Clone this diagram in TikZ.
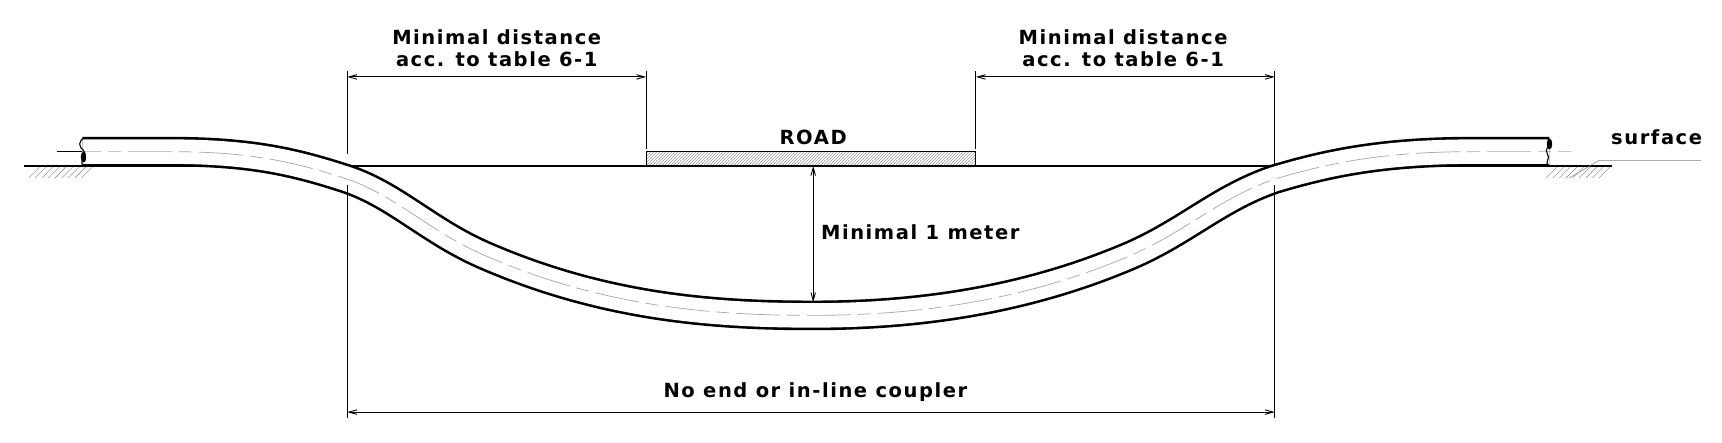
\documentclass[tikz,border=0pt]{standalone}
\usepackage{fontspec}
\setmainfont{DejaVu Sans}[LetterSpace=8]
\usetikzlibrary{arrows.meta,patterns}
\begin{document}
\begin{tikzpicture}[x=1.099pt,y=-1.099pt,
  lbl/.style={font=\bfseries\fontsize{19.5}{22}\selectfont,align=center,inner sep=0},
  dim/.style={line width=0.9pt,{Straight Barb[length=8pt,width=4.5pt]}-{Straight Barb[length=8pt,width=4.5pt]}},
  ext/.style={line width=0.8pt},
  pipe/.style={line width=2.6pt,double=white,double distance=24.5pt},
  cl/.style={gray!70,line width=0.7pt,dash pattern=on 44pt off 7pt on 13pt off 7pt}]
\useasboundingbox (0,0) rectangle (1567,403);
% ground
\draw[line width=1.3pt] (22,151) -- (1467,151);
\foreach \x in {26,32,...,74} \draw[gray,line width=0.4pt] (\x,162) -- (\x+10,152);
\foreach \x in {1407,1413,...,1455} \draw[gray,line width=0.4pt] (\x,162) -- (\x+10,152);
% pipe
\coordinate (pl) at (75,138); \coordinate (pr) at (1410,138);
\draw[pipe] (pl) -- (155,138) .. controls (230,138) and (270,148) .. (316,163)
 .. controls (360,178) and (390,210) .. (440,232)
 .. controls (550,280) and (650,287) .. (740,287)
 .. controls (830,287) and (930,275) .. (1030,232)
 .. controls (1080,210) and (1110,180) .. (1160,163)
 .. controls (1210,148) and (1260,138) .. (1340,138) -- (pr);
\draw[cl] (52,138) -- (155,138) .. controls (230,138) and (270,148) .. (316,163)
 .. controls (360,178) and (390,210) .. (440,232)
 .. controls (550,280) and (650,287) .. (740,287)
 .. controls (830,287) and (930,275) .. (1030,232)
 .. controls (1080,210) and (1110,180) .. (1160,163)
 .. controls (1210,148) and (1260,138) .. (1340,138) -- (1430,138);
\draw[line width=0.9pt] (52,138) -- (75,138);
% pipe ends
\draw[line width=1.1pt] (78,125) .. controls (70,128) and (72,134) .. (76,137) .. controls (80,142) and (72,146) .. (75,151);
\fill (76,143) ellipse (2.5 and 5);
\draw[line width=1.1pt] (1408,125) .. controls (1414,130) and (1404,136) .. (1408,140) .. controls (1412,144) and (1404,148) .. (1410,151);
\fill (1410,131) ellipse (2.5 and 5);
% road
\draw[line width=1.1pt,pattern=north east lines,pattern color=gray] (588,151) rectangle (888,138);
\node[lbl] (road) at (740,125) {ROAD};
% top dimensions
\draw[ext] (316,65) -- (316,140);
\draw[ext] (588,65) -- (588,136);
\draw[ext] (888,65) -- (888,136);
\draw[ext] (1160,65) -- (1160,150);
\coordinate (a1) at (316,70); \coordinate (a2) at (588,70);
\coordinate (a3) at (888,70); \coordinate (a4) at (1160,70);
\draw[dim] (a1) -- (a2);
\draw[dim] (a3) -- (a4);
\node[lbl] (t1) at (452,44) {Minimal distance\\acc. to table 6-1};
\node[lbl] (t2) at (1022,44) {Minimal distance\\acc. to table 6-1};
% bottom dimension
\draw[ext] (316,168) -- (316,380);
\draw[ext] (1160,168) -- (1160,380);
\coordinate (b1) at (316,375); \coordinate (b2) at (1160,375);
\draw[dim] (b1) -- (b2);
\node[lbl] (t3) at (742,357) {No end or in-line coupler};
% depth
\coordinate (d1) at (740,151); \coordinate (d2) at (740,275);
\draw[dim] (d1) -- (d2);
\node[lbl,anchor=west] (t4) at (747,211) {Minimal 1 meter};
% surface
\node[lbl,anchor=south west] (surf) at (1466,132) {surface};
\draw[gray,line width=0.5pt] (1428,162) -- (1455,146) -- (1548,146);
\end{tikzpicture}
\end{document}
